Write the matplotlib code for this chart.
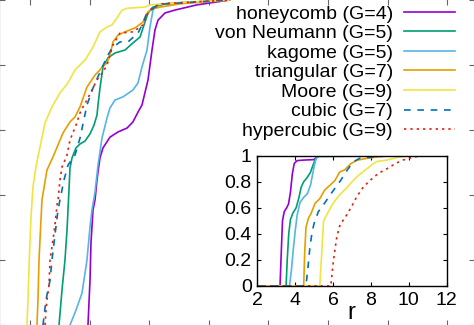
import matplotlib.pyplot as plt
import numpy as np

plt.rcParams['font.family'] = ['Liberation Sans', 'DejaVu Sans']

labels = ['honeycomb (G=4)', 'von Neumann (G=5)', 'kagome (G=5)', 'triangular (G=7)',
          'Moore (G=9)', 'cubic (G=7)', 'hypercubic (G=9)']
colors = ['#9400d3', '#009e73', '#56b4e9', '#e69f00', '#f0e442', '#0072b2', '#e51e10']

# main panel (cropped in the picture): scaled x, cumulative fraction y
main_x = [
    [0.973, 1.007, 1.023, 1.057, 1.091, 1.124, 1.141, 1.174, 1.225, 1.342, 1.477, 1.628, 1.728,
     1.812, 1.879, 1.980, 2.047, 2.097, 2.148, 2.265, 2.433, 2.802, 3.356],
    [0.487, 0.537, 0.587, 0.621, 0.654, 0.671, 0.705, 0.772, 0.839, 0.923, 1.007, 1.074, 1.124,
     1.141, 1.174, 1.225, 1.309, 1.426, 1.594, 1.728, 1.846, 1.913, 1.980, 2.064, 2.265, 3.356],
    [0.671, 0.772, 0.872, 0.956, 1.007, 1.040, 1.091, 1.141, 1.208, 1.292, 1.342, 1.426, 1.560,
     1.728, 1.812, 1.879, 1.963, 2.013, 2.064, 2.131, 2.433, 3.356],
    [0.117, 0.134, 0.151, 0.201, 0.285, 0.386, 0.470, 0.554, 0.671, 0.755, 0.839, 0.956, 1.091,
     1.174, 1.225, 1.292, 1.342, 1.393, 1.477, 1.594, 1.762, 1.896, 1.946, 1.980, 2.047, 2.181,
     2.517, 3.356],
    [-0.05, -0.034, -0.012, 0.017, 0.05, 0.10, 0.168, 0.252, 0.369, 0.503, 0.638, 0.755, 0.923,
     1.057, 1.174, 1.292, 1.376, 1.46, 1.544, 1.644, 1.93, 2.013, 2.433, 3.356],
    [0.218, 0.268, 0.336, 0.369, 0.419, 0.470, 0.503, 0.570, 0.638, 0.755, 0.839, 0.956, 1.057,
     1.174, 1.292, 1.376, 1.510, 1.644, 1.812, 1.896, 1.963, 2.097, 2.265, 3.356],
    [0.252, 0.268, 0.285, 0.319, 0.336, 0.386, 0.419, 0.453, 0.470, 0.503, 0.537, 0.621, 0.671,
     0.772, 0.839, 0.906, 0.956, 1.124, 1.225, 1.292, 1.342, 1.393, 1.510, 1.728, 1.896, 1.980,
     2.047, 2.181, 3.356],
]
main_y = [
    [0, 0.138, 0.252, 0.354, 0.385, 0.446, 0.471, 0.514, 0.545, 0.578, 0.594, 0.606, 0.625,
     0.655, 0.677, 0.754, 0.846, 0.908, 0.938, 0.96, 0.969, 0.985, 1.0],
    [0, 0.108, 0.2, 0.292, 0.415, 0.483, 0.514, 0.545, 0.557, 0.566, 0.588, 0.615, 0.646,
     0.677, 0.729, 0.794, 0.822, 0.837, 0.846, 0.868, 0.886, 0.923, 0.96, 0.978, 0.988, 1.0],
    [0, 0.046, 0.098, 0.2, 0.302, 0.354, 0.409, 0.492, 0.575, 0.637, 0.668, 0.692, 0.702,
     0.723, 0.745, 0.794, 0.846, 0.917, 0.969, 0.985, 0.991, 1.0],
    [0, 0.077, 0.2, 0.385, 0.477, 0.517, 0.554, 0.591, 0.625, 0.64, 0.671, 0.732, 0.769,
     0.785, 0.797, 0.806, 0.831, 0.871, 0.892, 0.902, 0.914, 0.932, 0.954, 0.963, 0.972, 0.978,
     0.988, 1.0],
    [0, 0.077, 0.2, 0.332, 0.425, 0.486, 0.548, 0.622, 0.671, 0.714, 0.745, 0.785, 0.815,
     0.855, 0.902, 0.917, 0.923, 0.945, 0.969, 0.975, 0.978, 0.985, 0.991, 1.0],
    [0, 0.077, 0.138, 0.2, 0.277, 0.354, 0.385, 0.446, 0.492, 0.523, 0.575, 0.677, 0.729,
     0.778, 0.825, 0.852, 0.871, 0.871, 0.898, 0.929, 0.96, 0.978, 0.988, 1.0],
    [0, 0.046, 0.077, 0.123, 0.2, 0.262, 0.308, 0.369, 0.385, 0.446, 0.486, 0.523, 0.569,
     0.615, 0.652, 0.677, 0.692, 0.754, 0.778, 0.8, 0.831, 0.862, 0.898, 0.902, 0.923, 0.96,
     0.975, 0.988, 1.0],
]

# inset: cumulative distribution versus r
inset_r = [
    [2, 3.2, 3.25, 3.33, 3.42, 3.55, 3.65, 3.75, 3.85, 3.95, 4.1, 4.4, 5.0, 5.1, 5.25, 12],
    [2, 3.52, 3.58, 3.66, 3.75, 3.88, 4.05, 4.2, 4.32, 4.45, 4.62, 4.8, 4.95, 5.05, 5.15, 12],
    [2, 3.7, 3.8, 3.9, 4.0, 4.1, 4.25, 4.45, 4.65, 4.82, 4.95, 5.05, 5.12, 5.25, 12],
    [2, 4.45, 4.5, 4.57, 4.7, 4.85, 5.05, 5.3, 5.55, 5.85, 6.1, 6.35, 6.6, 6.95, 7.25, 7.8, 8.3, 9.0, 12],
    [2, 5.3, 5.36, 5.42, 5.5, 5.75, 6.0, 6.35, 6.7, 7.0, 7.35, 7.7, 8.05, 8.3, 8.85, 9.5, 10.1, 12],
    [2, 4.57, 4.68, 4.78, 4.9, 5.0, 5.22, 5.55, 5.9, 6.15, 6.4, 6.7, 7.05, 7.4, 8.1, 9.0, 12],
    [2, 5.88, 5.95, 6.0, 6.1, 6.2, 6.37, 6.72, 6.98, 7.25, 7.6, 7.95, 8.4, 8.85, 9.3, 9.7, 10.25, 10.8, 12],
]
inset_F = [
    [0, 0, 0.2, 0.5, 0.57, 0.6, 0.63, 0.72, 0.86, 0.94, 0.962, 0.966, 0.97, 0.985, 1, 1],
    [0, 0, 0.2, 0.4, 0.51, 0.56, 0.6, 0.68, 0.76, 0.8, 0.83, 0.87, 0.93, 0.97, 0.995, 1],
    [0, 0, 0.12, 0.28, 0.42, 0.54, 0.64, 0.68, 0.71, 0.78, 0.88, 0.95, 0.98, 0.995, 1],
    [0, 0, 0.25, 0.45, 0.52, 0.56, 0.635, 0.67, 0.735, 0.775, 0.81, 0.875, 0.89, 0.94, 0.965, 0.98, 0.99, 1, 1],
    [0, 0, 0.15, 0.3, 0.5, 0.57, 0.635, 0.7, 0.75, 0.8, 0.85, 0.89, 0.93, 0.955, 0.967, 0.99, 1, 1],
    [0, 0, 0.15, 0.3, 0.42, 0.48, 0.57, 0.635, 0.71, 0.76, 0.81, 0.88, 0.95, 0.98, 0.99, 1, 1],
    [0, 0, 0.1, 0.17, 0.28, 0.38, 0.47, 0.545, 0.61, 0.685, 0.76, 0.81, 0.865, 0.9, 0.94, 0.967, 0.99, 1, 1],
]

styles = ['-', '-', '-', '-', '-', (0, (4, 4)), (0, (1.4, 2.4))]

fig = plt.figure(figsize=(4.74, 3.25), dpi=100)

# main axes, its frame sits just outside the picture
ax = fig.add_axes([-1 / 474, -1 / 325, 476 / 474, 327 / 325])
for i in range(7):
    ax.plot(main_x[i], main_y[i], color=colors[i], lw=1.2, ls=styles[i], label=labels[i])
ax.set_xlim(-0.52, 7.466)
ax.set_ylim(-0.003, 1.003)
ax.set_xticks(np.arange(0, 8))
ax.set_yticks(np.arange(0, 1.01, 0.2))
ax.tick_params(direction='in', length=4.5, width=0.8, color='#666666', top=True, right=True,
               labelbottom=False, labelleft=False)

ax.legend(loc='upper right', bbox_to_anchor=(455 / 474, 1 - 5 / 325), bbox_transform=fig.transFigure,
          frameon=False, markerfirst=False, fontsize=14, labelspacing=0.1, handlelength=2.6,
          handletextpad=0.6, borderpad=0, borderaxespad=0)

# inset
axi = fig.add_axes([257.3 / 474, 39 / 325, 189.4 / 474, 130.3 / 325])
for i in range(7):
    axi.plot(inset_r[i], inset_F[i], color=colors[i], lw=1.2, ls=styles[i])
axi.set_xlim(2, 12)
axi.set_ylim(0, 1)
axi.set_xticks(np.arange(2, 13, 2))
axi.set_yticks(np.arange(0, 1.01, 0.2))
axi.set_yticklabels(['0', '0.2', '0.4', '0.6', '0.8', '1'])
axi.tick_params(direction='in', length=3, width=0.8, top=True, right=True, labelsize=14, pad=4)
for s in axi.spines.values():
    s.set_linewidth(1.0)
axi.text(0.495, -0.25, 'r', transform=axi.transAxes, ha='center', va='baseline', fontsize=17)

fig.savefig('out.png', dpi=100)
